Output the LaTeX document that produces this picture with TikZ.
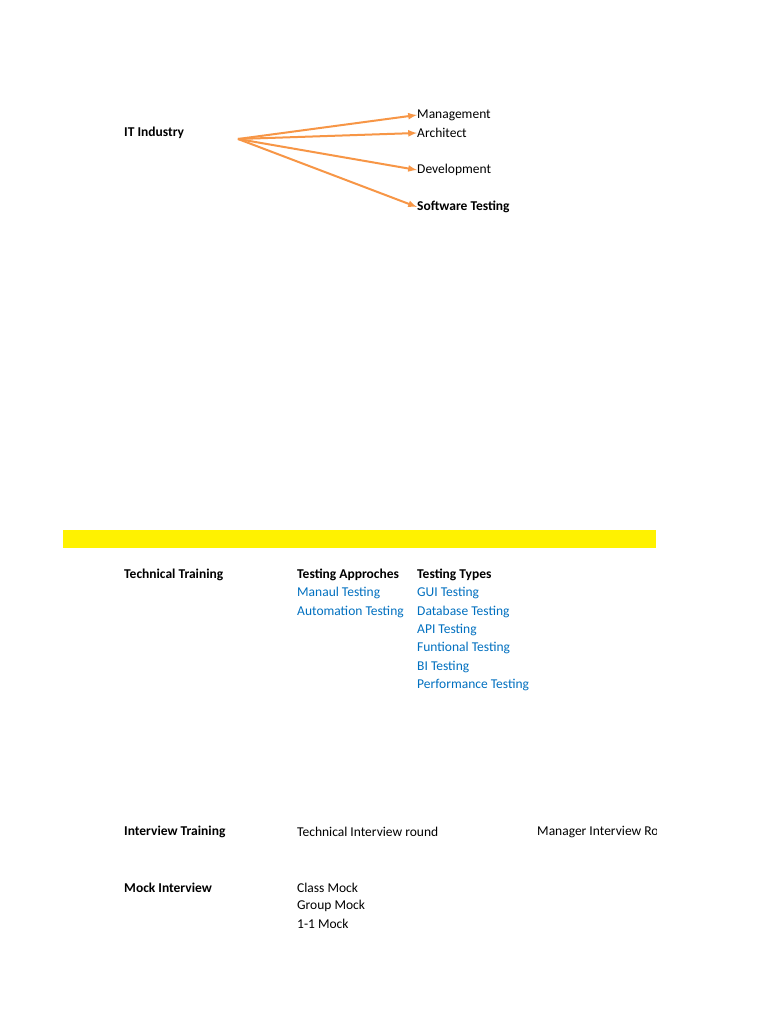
\documentclass[tikz,border=0pt]{standalone}
\usepackage{fontspec}
\setmainfont{Carlito}
\definecolor{arr}{RGB}{247,150,70}
\definecolor{lnk}{RGB}{0,112,192}
\begin{document}
\begin{tikzpicture}[x=1pt,y=-1pt,
  txt/.style={anchor=west,inner sep=0pt,font=\fontsize{13.5}{16}\selectfont},
  bld/.style={txt,font=\fontsize{13.5}{16}\selectfont\bfseries},
  blu/.style={txt,text=lnk},
  con/.style={draw=arr,line width=2pt,-latex}]
\useasboundingbox (0,0) rectangle (768,1024);
\fill[white] (0,0) rectangle (768,1024);
\node[bld] (it) at (124,133) {IT Industry};
\coordinate (o) at (238,139);
\node[txt] (m) at (417,115) {Management};
\node[txt] (a) at (417,133) {Architect};
\node[txt] (d) at (417,170) {Development};
\node[bld] (s) at (417,207) {Software Testing};
\draw[con] (o) -- (m.west);
\draw[con] (o) -- (a.west);
\draw[con] (o) -- (d.west);
\draw[con] (o) -- (s.west);
\fill[yellow] (63,530) rectangle (656,548);
\node[bld] (tt) at (124,575) {Technical Training};
\node[bld] (ta) at (297,575) {Testing Approches};
\node[blu] (mt) at (297,593) {Manaul Testing};
\node[blu] (at) at (297,612) {Automation Testing};
\node[bld] (ty) at (417,575) {Testing Types};
\node[blu] (g) at (417,593) {GUI Testing};
\node[blu] (db) at (417,612) {Database Testing};
\node[blu] (api) at (417,630) {API Testing};
\node[blu] (fn) at (417,648) {Funtional Testing};
\node[blu] (bi) at (417,667) {BI Testing};
\node[blu] (pf) at (417,685) {Performance Testing};
\node[bld] (itr) at (124,832) {Interview Training};
\node[txt] (tir) at (297,832) {Technical Interview round};
\begin{scope}
\clip (500,800) rectangle (656,860);
\node[txt] (mir) at (537,832) {Manager Interview Round};
\end{scope}
\node[bld] (mi) at (124,888) {Mock Interview};
\node[txt] (cm) at (297,888) {Class Mock};
\node[txt] (gm) at (297,906) {Group Mock};
\node[txt] (om) at (297,924) {1-1 Mock};
\end{tikzpicture}
\end{document}
